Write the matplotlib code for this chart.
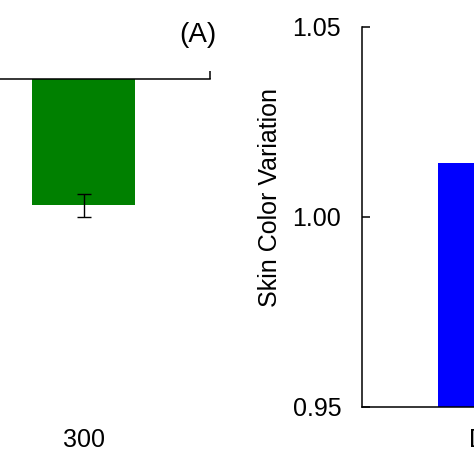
import matplotlib.pyplot as plt
from matplotlib.ticker import FormatStrFormatter

plt.rcParams['font.family'] = ['Liberation Sans', 'DejaVu Sans']

# panel (A), left: one dose group, bar hangs below the baseline
left_groups = ['300']
left_values = [-0.0332]
left_errors = [0.0030]

# right panel: skin colour variation
right_groups = ['DW']
right_values = [1.0142]
right_ticks = [0.95, 1.00, 1.05]

W = H = 474
fig = plt.figure(figsize=(W / 100, H / 100), dpi=100)


def px_axes(x0, y_top, x1, y_bot):
    return fig.add_axes([x0 / W, 1 - y_bot / H, (x1 - x0) / W, (y_bot - y_top) / H])


# ---- left panel ----
axl = px_axes(-43, 79, 210, 407)
axl.bar(range(len(left_groups)), left_values, width=0.407, color='#008000',
        yerr=left_errors, capsize=5, error_kw=dict(elinewidth=1, capthick=1, ecolor='black'))
axl.set_xlim(-0.5, 0.5)
axl.set_ylim(-0.0863, 0)
for s in ('left', 'right', 'bottom'):
    axl.spines[s].set_visible(False)
axl.spines['top'].set_linewidth(1.1)
axl.set_yticks([])
axl.set_xticks(range(len(left_groups)), left_groups)
axl.tick_params(axis='x', which='major', length=0, pad=15, labelsize=18)
axl.set_xticks([0.5], minor=True)
axl.tick_params(axis='x', which='minor', bottom=False, top=True,
                direction='out', length=6, width=1.1)

# ---- right panel ----
axr = px_axes(362, 27, 618, 407)
axr.bar(range(len(right_groups)), right_values, width=0.406, color='#0000FF')
axr.set_xlim(-0.5, 0.5)
axr.set_ylim(0.95, 1.05)
axr.set_yticks(right_ticks)
axr.yaxis.set_major_formatter(FormatStrFormatter('%.2f'))
axr.spines['top'].set_visible(False)
axr.spines['right'].set_visible(False)
axr.spines['left'].set_linewidth(1.1)
axr.spines['bottom'].set_linewidth(1.1)
axr.tick_params(axis='y', direction='in', length=6, width=1.1, pad=15, labelsize=18)
axr.set_xticks(range(len(right_groups)), right_groups)
axr.tick_params(axis='x', length=0, pad=15, labelsize=18)
axr.set_ylabel('Skin Color Variation', fontsize=18)
axr.yaxis.set_label_coords(-0.3125, 0.55)

fig.text(198 / W, 1 - 35 / H, '(A)', ha='center', va='center', fontsize=20)

fig.savefig('out.png', dpi=100)
